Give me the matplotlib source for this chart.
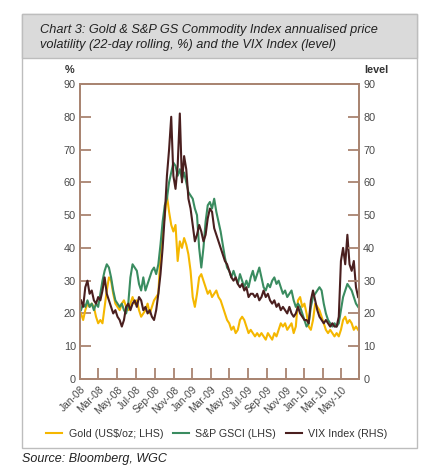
import numpy as np
import pandas as pd
import matplotlib
matplotlib.use("Agg")
import matplotlib.pyplot as plt
import matplotlib.dates as mdates
from matplotlib.patches import Rectangle
from matplotlib.lines import Line2D

plt.rcParams['font.family'] = ['Liberation Sans', 'DejaVu Sans']

# weekly readings, first week ending 4 Jan 2008
start = '2008-01-04'

gold = [20, 18, 21, 23, 22, 23, 22, 19, 17, 18, 17, 22, 27, 31, 30, 26, 23, 22, 21, 23,
        24, 22, 21, 23, 25, 23, 24, 21, 19, 20, 21, 23, 20, 22, 24, 25, 26, 38, 45, 50,
        56, 51, 47, 45, 47, 36, 42, 40, 43, 41, 38, 33, 25, 22, 26, 31, 32, 30, 28, 26,
        27, 25, 26, 27, 25, 24, 22, 20, 18, 17, 15, 16, 14, 15, 18, 19, 18, 16, 14, 15,
        14, 13, 14, 13, 14, 13, 12, 14, 13, 12, 14, 13, 15, 17, 16, 17, 15, 16, 17, 14,
        16, 24, 25, 22, 23, 20, 16, 15, 18, 23, 22, 21, 19, 17, 15, 14, 15, 14, 13, 14,
        13, 15, 18, 19, 17, 18, 17, 15, 16, 15]

gsci = [21, 23, 22, 24, 22, 23, 21, 23, 22, 26, 30, 33, 35, 34, 31, 27, 24, 23, 22, 23,
        21, 20, 23, 31, 35, 34, 33, 29, 27, 31, 27, 29, 31, 33, 34, 32, 35, 41, 48, 53,
        55, 60, 63, 66, 65, 62, 64, 61, 63, 60, 57, 56, 55, 52, 50, 40, 34, 40, 48, 53,
        54, 52, 55, 51, 48, 45, 41, 37, 34, 33, 31, 33, 31, 29, 32, 30, 28, 30, 28, 31,
        33, 30, 32, 34, 31, 28, 27, 29, 28, 30, 31, 29, 30, 28, 26, 27, 25, 26, 27, 24,
        22, 23, 22, 20, 18, 16, 17, 22, 25, 26, 27, 28, 27, 23, 20, 18, 17, 16, 17, 16,
        17, 21, 25, 27, 29, 28, 27, 25, 23, 22]

vix = [24, 22, 28, 30, 26, 27, 24, 23, 25, 24, 27, 31, 26, 24, 22, 20, 21, 19, 18, 16,
       18, 22, 23, 21, 23, 24, 22, 25, 24, 21, 22, 20, 21, 19, 18, 21, 26, 32, 40, 50,
       62, 70, 80, 62, 58, 65, 81, 60, 68, 64, 55, 52, 47, 42, 44, 47, 45, 42, 44, 49,
       52, 51, 46, 44, 42, 40, 38, 36, 35, 33, 31, 30, 31, 29, 28, 29, 27, 28, 25, 26,
       26, 25, 26, 24, 25, 27, 25, 26, 24, 23, 24, 22, 23, 21, 22, 21, 20, 22, 20, 19,
       20, 22, 20, 19, 18, 18, 17, 24, 27, 24, 21, 19, 18, 17, 18, 17, 16, 17, 16, 16,
       19, 36, 40, 35, 44, 35, 33, 36, 28, 25]

yticks = [0, 10, 20, 30, 40, 50, 60, 70, 80, 90]

dates = pd.date_range(start, periods=len(gold), freq='7D')

axis_col = '#a98471'
text_col = '#4a4a4a'

fig = plt.figure(figsize=(4.4, 4.7), dpi=100)

# outer frame and title band
fig.patches.append(Rectangle((0.05, 0.047), 0.898, 0.923, transform=fig.transFigure,
                             facecolor='white', edgecolor='#bdbdbd', lw=1, zorder=-10))
fig.patches.append(Rectangle((0.05, 0.8766), 0.898, 0.0934, transform=fig.transFigure,
                             facecolor='#dadada', edgecolor='#bdbdbd', lw=1, zorder=-9))
fig.text(0.091, 0.920, 'Chart 3: Gold & S&P GS Commodity Index annualised price\n'
         'volatility (22-day rolling, %) and the VIX Index (level)',
         fontsize=9.2, style='italic', color='#222222', va='center', linespacing=1.4)

ax = fig.add_axes([0.182, 0.1936, 0.634, 0.6277])
ax.patch.set_alpha(0)
ax.plot(dates, gold, color='#f5b700', lw=1.5)
ax.plot(dates, gsci, color='#3a8c60', lw=1.5)
ax.plot(dates, vix, color='#4a1f1f', lw=1.5)

ax.set_ylim(0, 90)
ax.set_yticks(yticks)
ax.set_xlim(pd.Timestamp('2008-01-01'), pd.Timestamp('2010-06-28'))
ax.xaxis.set_major_locator(mdates.MonthLocator(bymonth=[1, 3, 5, 7, 9, 11]))
ax.xaxis.set_major_formatter(mdates.DateFormatter('%b-%y'))
for lab in ax.get_xticklabels():
    lab.set_rotation(45)
    lab.set_ha('right')
    lab.set_rotation_mode('anchor')

ax2 = ax.twinx()
ax2.set_ylim(0, 90)
ax2.set_yticks(yticks)

for a in (ax, ax2):
    for s in a.spines.values():
        s.set_color(axis_col)
        s.set_linewidth(1.3)
    a.tick_params(direction='in', length=8, width=1.3, color=axis_col,
                  labelsize=7.8, labelcolor=text_col, pad=3)
ax.tick_params(axis='x', pad=4, labelsize=7.4)

fig.text(0.159, 0.851, '%', fontsize=7.8, fontweight='bold', color='#333333', ha='center', va='center')
fig.text(0.855, 0.851, 'level', fontsize=7.8, fontweight='bold', color='#333333', ha='center', va='center')

handles = [Line2D([], [], color='#f5b700', lw=1.5),
           Line2D([], [], color='#3a8c60', lw=1.5),
           Line2D([], [], color='#4a1f1f', lw=1.5)]
fig.legend(handles, ['Gold (US$/oz; LHS)', 'S&P GSCI (LHS)', 'VIX Index (RHS)'],
           loc='center', bbox_to_anchor=(0.493, 0.077), ncol=3, frameon=False,
           fontsize=7.7, handlelength=1.5, handletextpad=0.6, columnspacing=0.9,
           labelcolor='#333333')

fig.text(0.05, 0.023, 'Source: Bloomberg, WGC', fontsize=9, style='italic',
         color='#222222', va='center')

fig.savefig('out.png', dpi=100)
